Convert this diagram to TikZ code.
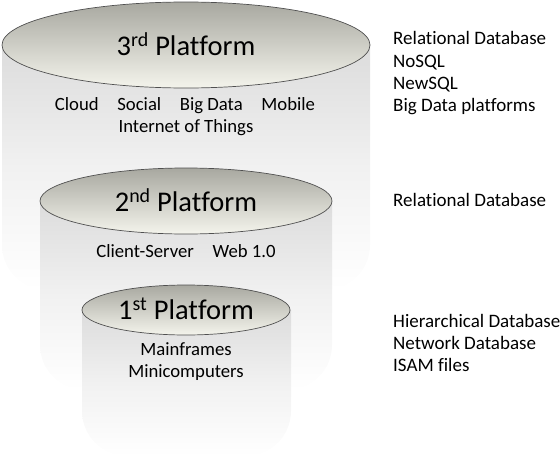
\documentclass[tikz,border=0pt]{standalone}
\usepackage{fontspec}
\setmainfont{Carlito}[Ligatures=CommonOff]
\usetikzlibrary{shapes.geometric}
\definecolor{bodytop}{HTML}{DCDCDC}
\definecolor{bodymid}{HTML}{F1F1F1}
\definecolor{lidtop}{HTML}{A8A8A0}
\definecolor{lidbot}{HTML}{F4F4EC}
\definecolor{lidline}{HTML}{505050}
\tikzset{
  body/.style={top color=bodytop, bottom color=white, middle color=bodymid},
  lid/.style={ellipse, draw=lidline, line width=0.7pt, top color=lidtop, bottom color=lidbot, inner sep=0pt},
  title/.style={font=\fontsize{28.5}{30}\selectfont, text=black},
  label/.style={font=\fontsize{18.7}{21.5}\selectfont, text=black, inner sep=0pt},
  side/.style={font=\fontsize{19}{22}\selectfont, text=black, inner sep=0pt, anchor=base west},
}
\newcommand{\cylbody}[4]{% left, top, right, bottom
  \shade[body] (#1,#2) -- (#3,#2) -- (#3,#4-45) arc[start angle=0,end angle=90,radius=45]
    -- (#1+45,#4) arc[start angle=90,end angle=180,radius=45] -- cycle;}
\begin{document}
\begin{tikzpicture}[x=1pt,y=-1pt]
\useasboundingbox (0,0) rectangle (560,463);
% 3rd platform
\cylbody{2}{45}{370}{290}
\node[lid, minimum width=368pt, minimum height=86pt] (lid3) at (186,45) {};
\node[title] (t3) at (186,44) {3\textsuperscript{rd} Platform};
\node[label, anchor=base] (a3) at (185,110) {Cloud\hspace{1em}Social\hspace{1em}Big Data\hspace{1em}Mobile};
\node[label, anchor=base] (b3) at (186,132) {Internet of Things};
% 2nd platform
\cylbody{40}{201}{332}{390}
\node[lid, minimum width=292pt, minimum height=66pt] (lid2) at (186,201) {};
\node[title] (t2) at (186,200) {2\textsuperscript{nd} Platform};
\node[label, anchor=base] (a2) at (186,257) {Client-Server\hspace{1em}Web 1.0};
% 1st platform
\cylbody{82}{310}{291}{456}
\node[lid, minimum width=208pt, minimum height=50pt] (lid1) at (186,310) {};
\node[title] (t1) at (186,309) {1\textsuperscript{st} Platform};
\node[label, anchor=base] (a1) at (186,355) {Mainframes};
\node[label, anchor=base] (b1) at (186,377) {Minicomputers};
% side texts
\node[side] (r1) at (393,45) {Relational Database};
\node[side] (r2) at (393,67) {NoSQL};
\node[side] (r3) at (393,89) {NewSQL};
\node[side] (r4) at (393,111) {Big Data platforms};
\node[side] (r5) at (393,206) {Relational Database};
\node[side] (r6) at (393,327) {Hierarchical Database};
\node[side] (r7) at (393,349) {Network Database};
\node[side] (r8) at (393,371) {ISAM files};
\end{tikzpicture}
\end{document}
